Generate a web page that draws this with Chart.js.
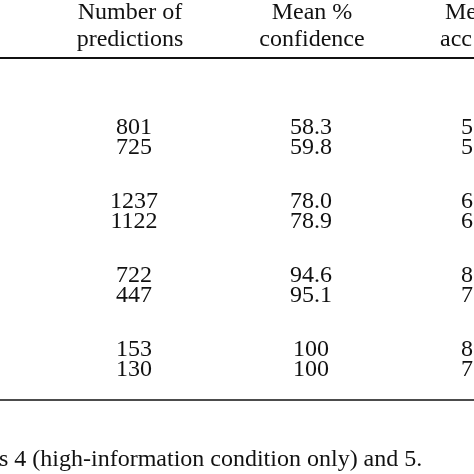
<!DOCTYPE html>
<html><head><meta charset="utf-8">
<script src="https://cdn.jsdelivr.net/npm/chart.js@4"></script>
<style>html,body{margin:0;padding:0;background:#fff}#w{width:474px;height:474px}</style>
</head><body><div id="w"><canvas id="c"></canvas></div>
<script>
const predictions = ['801','725','1237','1122','722','447','153','130'];
const confidence = ['58.3','59.8','78.0','78.9','94.6','95.1','100','100'];
const accuracyVisible = ['5','5','6','6','8','7','8','7'];
const rowY = [128,148,202,222,276,296,350,370];
const headers1 = ['Number of','Mean %','Me'];
const headers2 = ['predictions','confidence','acc'];
const footnote = 's 4 (high-information condition only) and 5.';

const mk = (vals, x, align) => ({data: vals.map((v,i)=>({x:x, y:rowY[i], t:v})), align});
const sets = [
  mk(predictions,134,'center'), mk(confidence,311,'center'), mk(accuracyVisible,461,'left'),
  {data:[{x:130,y:13,t:headers1[0]},{x:312,y:13,t:headers1[1]},{x:445,y:13,t:headers1[2]}], align:'h'},
  {data:[{x:130,y:40,t:headers2[0]},{x:312,y:40,t:headers2[1]},{x:440,y:40,t:headers2[2]}], align:'h'},
  {data:[{x:-1,y:460,t:footnote}], align:'left'}
];
const textPlugin = {id:'txt', afterDatasetsDraw(chart){
  const ctx=chart.ctx, xs=chart.scales.x, ys=chart.scales.y;
  ctx.save(); ctx.fillStyle='#111'; ctx.textBaseline='middle';
  ctx.font='24px "Liberation Serif", "DejaVu Serif", serif';
  ctx.strokeStyle='#111';
  ctx.lineWidth=2; ctx.beginPath(); ctx.moveTo(xs.getPixelForValue(0),ys.getPixelForValue(58)); ctx.lineTo(xs.getPixelForValue(474),ys.getPixelForValue(58)); ctx.stroke();
  ctx.lineWidth=1.5; ctx.beginPath(); ctx.moveTo(xs.getPixelForValue(0),ys.getPixelForValue(400)); ctx.lineTo(xs.getPixelForValue(474),ys.getPixelForValue(400)); ctx.stroke();
  chart.data.datasets.forEach((ds,di)=>{
    const meta=chart.getDatasetMeta(di);
    meta.data.forEach((pt,i)=>{
      const d=ds.data[i];
      let al=ds.align;
      if(al==='h') al = i===2?'left':'center';
      ctx.textAlign=al;
      ctx.fillText(d.t, pt.x, pt.y);
    });
  });
  ctx.restore();
}};
new Chart(document.getElementById('c'), {
  type:'scatter',
  data:{datasets:sets.map(s=>({data:s.data, align:s.align, pointRadius:0, showLine:false}))},
  options:{responsive:true, maintainAspectRatio:false, animation:false,
    layout:{padding:0},
    plugins:{legend:{display:false},tooltip:{enabled:false}},
    scales:{x:{type:'linear',min:0,max:474,display:false},
            y:{type:'linear',min:0,max:474,reverse:true,display:false}}},
  plugins:[textPlugin]
});
</script></body></html>
